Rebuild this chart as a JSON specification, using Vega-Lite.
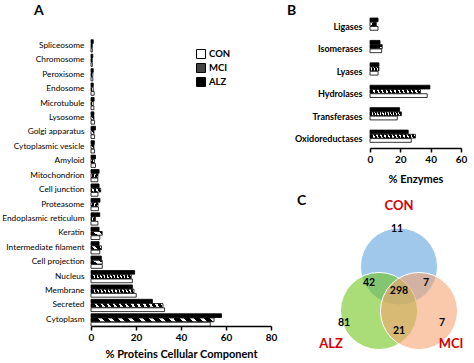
{
  "$schema": "https://vega.github.io/schema/vega-lite/v6.json",
  "background": "white",
  "padding": {"left": 1, "top": 3, "right": 0, "bottom": 0},
  "bounds": "flush",
  "config": {
    "view": {"stroke": null},
    "font": "Lato",
    "axis": {"labelFont": "Lato", "titleFont": "Lato", "domainColor": "black", "tickColor": "black", "labelColor": "black", "titleColor": "black", "grid": false},
    "title": {"font": "Lato", "color": "black"}
  },
  "datasets": {
    "comp": [
      {"c": "Spliceosome", "g": "ALZ", "v": 1.0}, {"c": "Spliceosome", "g": "MCI", "v": 0.6}, {"c": "Spliceosome", "g": "CON", "v": 0.6},
      {"c": "Chromosome", "g": "ALZ", "v": 0.8}, {"c": "Chromosome", "g": "MCI", "v": 0.6}, {"c": "Chromosome", "g": "CON", "v": 0.6},
      {"c": "Peroxisome", "g": "ALZ", "v": 1.0}, {"c": "Peroxisome", "g": "MCI", "v": 0.8}, {"c": "Peroxisome", "g": "CON", "v": 0.8},
      {"c": "Endosome", "g": "ALZ", "v": 1.0}, {"c": "Endosome", "g": "MCI", "v": 1.0}, {"c": "Endosome", "g": "CON", "v": 1.4},
      {"c": "Microtubule", "g": "ALZ", "v": 1.4}, {"c": "Microtubule", "g": "MCI", "v": 1.0}, {"c": "Microtubule", "g": "CON", "v": 1.3},
      {"c": "Lysosome", "g": "ALZ", "v": 1.3}, {"c": "Lysosome", "g": "MCI", "v": 1.3}, {"c": "Lysosome", "g": "CON", "v": 1.6},
      {"c": "Golgi apparatus", "g": "ALZ", "v": 2.0}, {"c": "Golgi apparatus", "g": "MCI", "v": 1.3}, {"c": "Golgi apparatus", "g": "CON", "v": 1.6},
      {"c": "Cytoplasmic vesicle", "g": "ALZ", "v": 1.5}, {"c": "Cytoplasmic vesicle", "g": "MCI", "v": 1.3}, {"c": "Cytoplasmic vesicle", "g": "CON", "v": 1.6},
      {"c": "Amyloid", "g": "ALZ", "v": 2.0}, {"c": "Amyloid", "g": "MCI", "v": 1.5}, {"c": "Amyloid", "g": "CON", "v": 2.0},
      {"c": "Mitochondrion", "g": "ALZ", "v": 3.6}, {"c": "Mitochondrion", "g": "MCI", "v": 3.1}, {"c": "Mitochondrion", "g": "CON", "v": 3.0},
      {"c": "Cell junction", "g": "ALZ", "v": 3.6}, {"c": "Cell junction", "g": "MCI", "v": 4.3}, {"c": "Cell junction", "g": "CON", "v": 3.1},
      {"c": "Proteasome", "g": "ALZ", "v": 4.0}, {"c": "Proteasome", "g": "MCI", "v": 3.1}, {"c": "Proteasome", "g": "CON", "v": 3.3},
      {"c": "Endoplasmic reticulum", "g": "ALZ", "v": 3.9}, {"c": "Endoplasmic reticulum", "g": "MCI", "v": 2.0}, {"c": "Endoplasmic reticulum", "g": "CON", "v": 3.1},
      {"c": "Keratin", "g": "ALZ", "v": 3.6}, {"c": "Keratin", "g": "MCI", "v": 5.0}, {"c": "Keratin", "g": "CON", "v": 3.9},
      {"c": "Intermediate filament", "g": "ALZ", "v": 3.6}, {"c": "Intermediate filament", "g": "MCI", "v": 4.7}, {"c": "Intermediate filament", "g": "CON", "v": 3.9},
      {"c": "Cell projection", "g": "ALZ", "v": 4.6}, {"c": "Cell projection", "g": "MCI", "v": 5.0}, {"c": "Cell projection", "g": "CON", "v": 5.0},
      {"c": "Nucleus", "g": "ALZ", "v": 19.4}, {"c": "Nucleus", "g": "MCI", "v": 17.9}, {"c": "Nucleus", "g": "CON", "v": 18.4},
      {"c": "Membrane", "g": "ALZ", "v": 18.4}, {"c": "Membrane", "g": "MCI", "v": 19.1}, {"c": "Membrane", "g": "CON", "v": 20.1},
      {"c": "Secreted", "g": "ALZ", "v": 27.3}, {"c": "Secreted", "g": "MCI", "v": 32.0}, {"c": "Secreted", "g": "CON", "v": 32.7},
      {"c": "Cytoplasm", "g": "ALZ", "v": 58.0}, {"c": "Cytoplasm", "g": "MCI", "v": 54.7}, {"c": "Cytoplasm", "g": "CON", "v": 53.0}
    ],
    "enz": [
      {"c": "Ligases", "g": "ALZ", "v": 5.3}, {"c": "Ligases", "g": "MCI", "v": 4.2}, {"c": "Ligases", "g": "CON", "v": 5.3},
      {"c": "Isomerases", "g": "ALZ", "v": 6.6}, {"c": "Isomerases", "g": "MCI", "v": 8.1}, {"c": "Isomerases", "g": "CON", "v": 7.7},
      {"c": "Lyases", "g": "ALZ", "v": 5.9}, {"c": "Lyases", "g": "MCI", "v": 5.9}, {"c": "Lyases", "g": "CON", "v": 5.3},
      {"c": "Hydrolases", "g": "ALZ", "v": 39.5}, {"c": "Hydrolases", "g": "MCI", "v": 33.3}, {"c": "Hydrolases", "g": "CON", "v": 37.7},
      {"c": "Transferases", "g": "ALZ", "v": 19.5}, {"c": "Transferases", "g": "MCI", "v": 20.8}, {"c": "Transferases", "g": "CON", "v": 18.0},
      {"c": "Oxidoreductases", "g": "ALZ", "v": 25.2}, {"c": "Oxidoreductases", "g": "MCI", "v": 30.0}, {"c": "Oxidoreductases", "g": "CON", "v": 27.2}
    ],
    "venn": [
      {"set": "CON", "cx": 10.0, "cy": 9.65},
      {"set": "ALZ", "cx": 8.0, "cy": 5.2},
      {"set": "MCI", "cx": 12.0, "cy": 5.2}
    ],
    "vnum": [
      {"n": "11", "cx": 9.8, "cy": 13.4},
      {"n": "42", "cx": 7.0, "cy": 8.0},
      {"n": "7", "cx": 12.7, "cy": 8.0},
      {"n": "298", "cx": 10.0, "cy": 7.2},
      {"n": "81", "cx": 4.5, "cy": 4.0},
      {"n": "21", "cx": 10.0, "cy": 3.2},
      {"n": "7", "cx": 14.3, "cy": 4.0}
    ],
    "vlab": [
      {"label": "CON", "cx": 10.0, "cy": 15.7},
      {"label": "ALZ", "cx": 3.2, "cy": 1.9},
      {"label": "MCI", "cx": 15.2, "cy": 1.9}
    ]
  },
  "spacing": 99,
  "hconcat": [
    {
      "title": {"text": "A", "anchor": "start", "frame": "group", "fontSize": 14, "fontWeight": "bold", "dx": -57, "offset": 0},
      "width": 180,
      "height": 308,
      "data": {"name": "comp"},
      "mark": {"type": "bar", "stroke": "black", "strokeWidth": 0.8},
      "encoding": {
        "y": {"field": "c", "type": "nominal",
          "sort": ["Spliceosome", "Chromosome", "Peroxisome", "Endosome", "Microtubule", "Lysosome", "Golgi apparatus", "Cytoplasmic vesicle", "Amyloid", "Mitochondrion", "Cell junction", "Proteasome", "Endoplasmic reticulum", "Keratin", "Intermediate filament", "Cell projection", "Nucleus", "Membrane", "Secreted", "Cytoplasm"],
          "scale": {"paddingInner": 0.15, "paddingOuter": 0.755, "align": 1},
          "axis": {"title": null, "ticks": false, "domain": false, "labelFontSize": 8.3, "labelPadding": 7, "labelLimit": 200}},
        "yOffset": {"field": "g", "type": "nominal", "sort": ["ALZ", "MCI", "CON"], "scale": {"paddingInner": 0.12}},
        "x": {"field": "v", "type": "quantitative", "scale": {"domain": [0, 80], "nice": false},
          "axis": {"values": [0, 20, 40, 60, 80], "title": "% Proteins Cellular Component", "titleFontSize": 11, "titleFontWeight": "bold", "labelFontSize": 10, "labelFontWeight": "bold", "tickSize": 4, "domainWidth": 1.5, "tickWidth": 1.5, "labelPadding": 2, "titlePadding": 6, "labelFlush": false}},
        "fill": {
          "condition": {"test": "datum.g === 'MCI'", "value": {"gradient": "linear", "x1": 0, "y1": 0.03, "x2": 1, "y2": 0, "stops": [
            {"offset": 0, "color": "black"}, {"offset": 0.05, "color": "black"}, {"offset": 0.05, "color": "white"}, {"offset": 0.0833, "color": "white"},
            {"offset": 0.0833, "color": "black"}, {"offset": 0.1333, "color": "black"}, {"offset": 0.1333, "color": "white"}, {"offset": 0.1667, "color": "white"},
            {"offset": 0.1667, "color": "black"}, {"offset": 0.2167, "color": "black"}, {"offset": 0.2167, "color": "white"}, {"offset": 0.25, "color": "white"},
            {"offset": 0.25, "color": "black"}, {"offset": 0.3, "color": "black"}, {"offset": 0.3, "color": "white"}, {"offset": 0.3333, "color": "white"},
            {"offset": 0.3333, "color": "black"}, {"offset": 0.3833, "color": "black"}, {"offset": 0.3833, "color": "white"}, {"offset": 0.4167, "color": "white"},
            {"offset": 0.4167, "color": "black"}, {"offset": 0.4667, "color": "black"}, {"offset": 0.4667, "color": "white"}, {"offset": 0.5, "color": "white"},
            {"offset": 0.5, "color": "black"}, {"offset": 0.55, "color": "black"}, {"offset": 0.55, "color": "white"}, {"offset": 0.5833, "color": "white"},
            {"offset": 0.5833, "color": "black"}, {"offset": 0.6333, "color": "black"}, {"offset": 0.6333, "color": "white"}, {"offset": 0.6667, "color": "white"},
            {"offset": 0.6667, "color": "black"}, {"offset": 0.7167, "color": "black"}, {"offset": 0.7167, "color": "white"}, {"offset": 0.75, "color": "white"},
            {"offset": 0.75, "color": "black"}, {"offset": 0.8, "color": "black"}, {"offset": 0.8, "color": "white"}, {"offset": 0.8333, "color": "white"},
            {"offset": 0.8333, "color": "black"}, {"offset": 0.8833, "color": "black"}, {"offset": 0.8833, "color": "white"}, {"offset": 0.9167, "color": "white"},
            {"offset": 0.9167, "color": "black"}, {"offset": 0.9667, "color": "black"}, {"offset": 0.9667, "color": "white"}, {"offset": 1, "color": "white"}
          ]}},
          "field": "g", "type": "nominal",
          "scale": {"domain": ["CON", "MCI", "ALZ"], "range": ["white", "#444444", "black"]},
          "legend": {"title": null, "orient": "none", "legendX": 105, "legendY": 31, "symbolType": "square", "symbolSize": 80, "symbolStrokeColor": "black", "symbolStrokeWidth": 1, "labelFont": "Lato", "labelFontSize": 9.5, "labelFontWeight": "bold", "labelColor": "black", "rowPadding": 0, "labelOffset": 3}
        }
      }
    },
    {
      "spacing": 65,
      "bounds": "flush",
      "vconcat": [
        {
          "title": {"text": "B", "anchor": "start", "frame": "group", "fontSize": 14, "fontWeight": "bold", "dx": -83, "offset": 0},
          "width": 91,
          "height": 130,
          "data": {"name": "enz"},
          "mark": {"type": "bar", "stroke": "black", "strokeWidth": 0.8},
          "encoding": {
            "y": {"field": "c", "type": "nominal",
              "sort": ["Ligases", "Isomerases", "Lyases", "Hydrolases", "Transferases", "Oxidoreductases"],
              "scale": {"paddingInner": 0.2, "paddingOuter": 0},
              "axis": {"title": null, "ticks": false, "domain": false, "labelFontSize": 9, "labelFontWeight": "bold", "labelPadding": 8}},
            "yOffset": {"field": "g", "type": "nominal", "sort": ["ALZ", "MCI", "CON"], "scale": {"paddingInner": 0.12}},
            "x": {"field": "v", "type": "quantitative", "scale": {"domain": [0, 60], "nice": false},
              "axis": {"values": [0, 20, 40, 60], "title": "% Enzymes", "titleFontSize": 11, "titleFontWeight": "bold", "labelFontSize": 10, "labelFontWeight": "bold", "tickSize": 4, "domainWidth": 1.5, "tickWidth": 1.5, "labelPadding": 2, "titlePadding": 9, "labelFlush": false}},
            "fill": {
              "condition": {"test": "datum.g === 'MCI'", "value": {"gradient": "linear", "x1": 0, "y1": 0.03, "x2": 1, "y2": 0, "stops": [
                {"offset": 0, "color": "black"}, {"offset": 0.05, "color": "black"}, {"offset": 0.05, "color": "white"}, {"offset": 0.0833, "color": "white"},
                {"offset": 0.0833, "color": "black"}, {"offset": 0.1333, "color": "black"}, {"offset": 0.1333, "color": "white"}, {"offset": 0.1667, "color": "white"},
                {"offset": 0.1667, "color": "black"}, {"offset": 0.2167, "color": "black"}, {"offset": 0.2167, "color": "white"}, {"offset": 0.25, "color": "white"},
                {"offset": 0.25, "color": "black"}, {"offset": 0.3, "color": "black"}, {"offset": 0.3, "color": "white"}, {"offset": 0.3333, "color": "white"},
                {"offset": 0.3333, "color": "black"}, {"offset": 0.3833, "color": "black"}, {"offset": 0.3833, "color": "white"}, {"offset": 0.4167, "color": "white"},
                {"offset": 0.4167, "color": "black"}, {"offset": 0.4667, "color": "black"}, {"offset": 0.4667, "color": "white"}, {"offset": 0.5, "color": "white"},
                {"offset": 0.5, "color": "black"}, {"offset": 0.55, "color": "black"}, {"offset": 0.55, "color": "white"}, {"offset": 0.5833, "color": "white"},
                {"offset": 0.5833, "color": "black"}, {"offset": 0.6333, "color": "black"}, {"offset": 0.6333, "color": "white"}, {"offset": 0.6667, "color": "white"},
                {"offset": 0.6667, "color": "black"}, {"offset": 0.7167, "color": "black"}, {"offset": 0.7167, "color": "white"}, {"offset": 0.75, "color": "white"},
                {"offset": 0.75, "color": "black"}, {"offset": 0.8, "color": "black"}, {"offset": 0.8, "color": "white"}, {"offset": 0.8333, "color": "white"},
                {"offset": 0.8333, "color": "black"}, {"offset": 0.8833, "color": "black"}, {"offset": 0.8833, "color": "white"}, {"offset": 0.9167, "color": "white"},
                {"offset": 0.9167, "color": "black"}, {"offset": 0.9667, "color": "black"}, {"offset": 0.9667, "color": "white"}, {"offset": 1, "color": "white"}
              ]}},
              "field": "g", "type": "nominal",
              "scale": {"domain": ["CON", "MCI", "ALZ"], "range": ["white", "#444444", "black"]},
              "legend": null
            }
          }
        },
        {
          "title": {"text": "C", "anchor": "start", "frame": "group", "fontSize": 14, "fontWeight": "bold", "dx": -73, "offset": -8},
          "width": 103,
          "height": 150,
          "layer": [
            {
              "data": {"name": "venn"},
              "mark": {"type": "point", "shape": "circle", "filled": true, "size": 5945, "opacity": 1, "fillOpacity": 0.6, "stroke": "white", "strokeWidth": 1},
              "encoding": {
                "x": {"field": "cx", "type": "quantitative", "scale": {"domain": [7.1, 17.4], "nice": false, "zero": false}, "axis": null},
                "y": {"field": "cy", "type": "quantitative", "scale": {"domain": [0, 15], "nice": false}, "axis": null},
                "color": {"field": "set", "type": "nominal", "scale": {"domain": ["CON", "ALZ", "MCI"], "range": ["#61a3de", "#71c51e", "#f7a371"]}, "legend": null}
              }
            },
            {
              "data": {"name": "vnum"},
              "mark": {"type": "text", "fontWeight": "bold", "fontSize": 10.5, "color": "black", "font": "Lato"},
              "encoding": {
                "x": {"field": "cx", "type": "quantitative"},
                "y": {"field": "cy", "type": "quantitative"},
                "text": {"field": "n"}
              }
            },
            {
              "data": {"name": "vlab"},
              "mark": {"type": "text", "fontWeight": "bold", "fontSize": 13, "color": "#d40000", "font": "Lato"},
              "encoding": {
                "x": {"field": "cx", "type": "quantitative"},
                "y": {"field": "cy", "type": "quantitative"},
                "text": {"field": "label"}
              }
            }
          ]
        }
      ]
    }
  ]
}
